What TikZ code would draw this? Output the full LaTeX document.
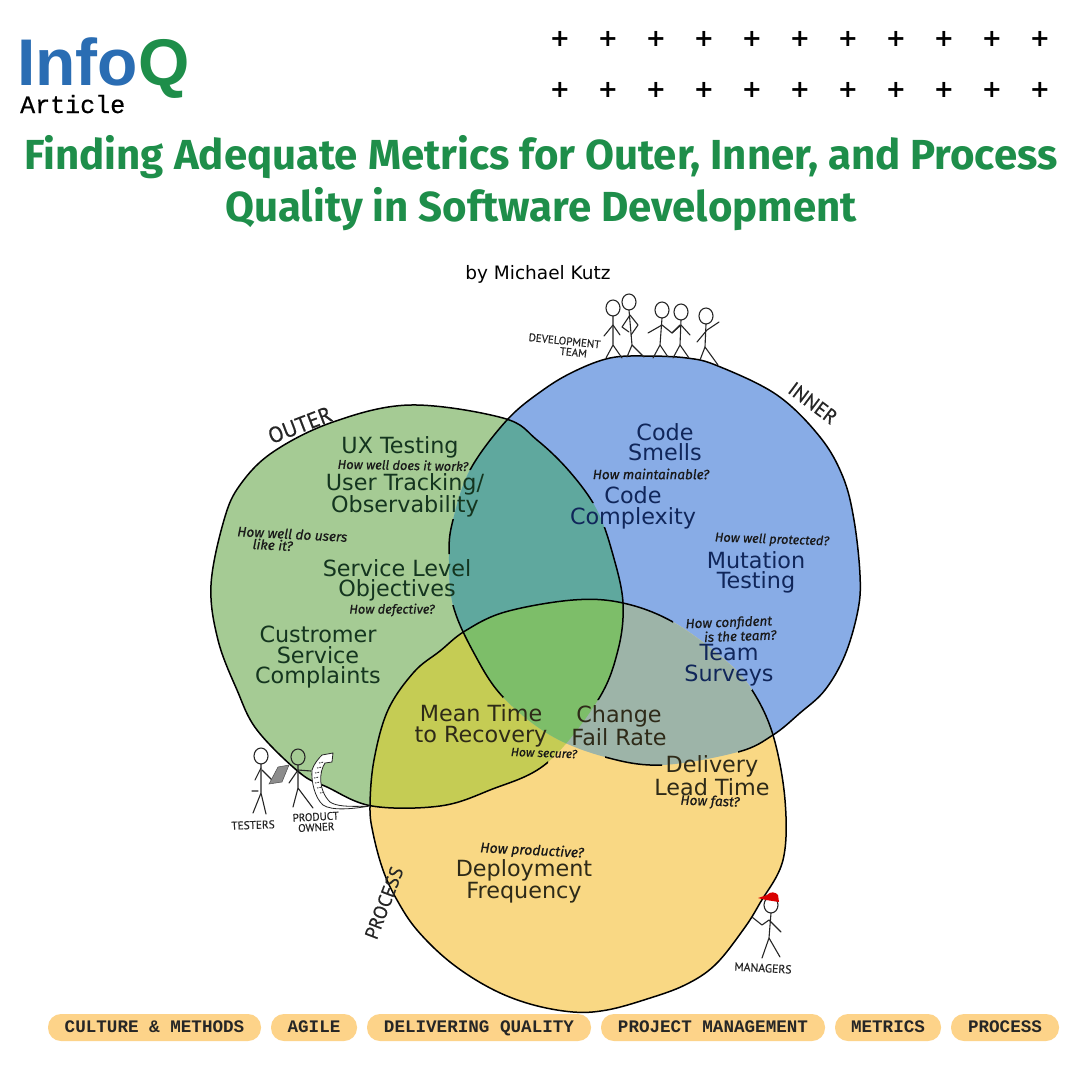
\documentclass[tikz,border=0pt]{standalone}
\usepackage{fontspec}
\setmainfont{DejaVu Sans}
\newfontfamily\titlefont{Fira Sans}
\newfontfamily\logofont{Liberation Sans}
\newfontfamily\monofont{Liberation Mono}
\newfontfamily\articlefont[FakeBold=0.5]{Liberation Mono}
\newfontfamily\byfont{DejaVu Sans}
\newfontfamily\handfont[FakeBold=0.6]{Fira Sans Italic}
\newfontfamily\capsfont[FakeBold=0.4]{PT Sans}
\definecolor{brandgreen}{HTML}{1E8E4A}
\definecolor{brandblue}{HTML}{2A6DB3}
\definecolor{chipfill}{HTML}{FDD389}
\definecolor{outeronly}{HTML}{A5CB94}
\definecolor{inneronly}{HTML}{88ACE6}
\definecolor{processonly}{HTML}{F9D884}
\definecolor{outerinner}{HTML}{5FA89E}
\definecolor{outerprocess}{HTML}{C5CC54}
\definecolor{innerprocess}{HTML}{9DB4A8}
\definecolor{allthree}{HTML}{7DBE69}
\definecolor{txtgreen}{HTML}{14351F}
\definecolor{txtblue}{HTML}{10265A}
\definecolor{txtyellow}{HTML}{2E2A18}
\tikzset{
  x=1pt,y=-1pt,
  venn/.style={draw=black,line width=1.5pt,line join=round},
  stick/.style={draw=black!85,line width=1.1pt,line cap=round,line join=round},
  metric/.style={font=\fontsize{22.3}{20.5}\selectfont,align=center,inner sep=0pt},
  hand/.style={font=\handfont\fontsize{#1}{12}\selectfont,inner sep=0pt,text=black!90,align=left},
  figlabel/.style={font=\capsfont\fontsize{#1}{10.5}\selectfont,align=center,inner sep=0pt,text=black!85},
  circlabel/.style={font=\capsfont\fontsize{#1}{20}\selectfont,inner sep=0pt,text=black!85},
  chip/.style={fill=chipfill,rounded corners=13pt,minimum height=27pt,inner sep=0pt,text=black!85,text height=12pt,text depth=3pt,font=\monofont\bfseries\fontsize{17.6}{18}\selectfont},
  plussign/.style={font=\bfseries\fontsize{24}{24}\selectfont,inner sep=0pt,text=black},
}
\def\outerpath{plot[smooth cycle,tension=0.6] coordinates {(211,585)(224,520)(240,485)(273,452)(333,422)(410,405)(503,418)(537,440)(570,472)(597,510)(613,555)(623,603)(618,650)(598,700)(547,763)(490,790)(440,806)(372,806)(327,787)(300,773)(257,730)(237,690)(218,640)}}
\def\innerpath{plot[smooth cycle,tension=0.6] coordinates {(645,356)(687,358)(718,366)(777,395)(820,437)(843,477)(854,520)(860,575)(858,610)(845,655)(825,690)(800,713)(773,735)(738,752)(662,765)(605,757)(550,735)(503,697)(475,655)(453,605)(449,553)(453,520)(470,470)(507,420)(543,390)(575,371)(610,358)}}
\def\processpath{plot[smooth cycle,tension=0.6] coordinates {(573,600)(623,603)(673,622)(725,660)(752,690)(773,735)(785,800)(783,860)(760,903)(743,930)(715,965)(685,985)(647,999)(607,1010)(573,1012)(530,1004)(490,988)(450,962)(417,930)(397,900)(383,870)(373,833)(370,806)(374,760)(388,710)(414,672)(440,651)(465,631)(505,612)}}
\newcommand{\stickfig}[7]{% head x,y ; hip x,y ; foot ; foot ; arms
  \draw[stick] (#1,#2) ellipse[x radius=7,y radius=8];
  \draw[stick] (#1,#2+8) -- (#3,#4) -- (#5) (#3,#4) -- (#6);
  \draw[stick] #7;
}
\begin{document}
\begin{tikzpicture}
\useasboundingbox (0,0) rectangle (1080,1080);
\fill[white] (0,0) rectangle (1080,1080);
% Header
\node[anchor=base west,inner sep=0pt,font=\logofont\bfseries\fontsize{66}{66}\selectfont] (logo) at (17,85) {\textcolor{brandblue}{Info}\textcolor{brandgreen}{Q}};
\node[anchor=base west,inner sep=0pt,font=\articlefont\fontsize{25}{25}\selectfont,text=black] (article) at (20,113) {Article};
\foreach \r/\yy in {1/39,2/90}{\foreach \c [evaluate=\c as \xx using 560+48*\c] in {0,...,10}{
  \node[plussign] (p\r-\c) at (\xx,\yy) {+};}}
\node[align=center,inner sep=0pt,font=\titlefont\bfseries\fontsize{42}{52}\selectfont,text=brandgreen] (title) at (541,183) {Finding Adequate Metrics for Outer, Inner, and Process\\Quality in Software Development};
\node[inner sep=0pt,font=\byfont\fontsize{18.5}{18.5}\selectfont,text=black] (by) at (538,274) {by Michael Kutz};
% Venn regions
\fill[outeronly] \outerpath;
\fill[inneronly] \innerpath;
\fill[processonly] \processpath;
\begin{scope}\clip \outerpath; \fill[outerinner] \innerpath; \fill[outerprocess] \processpath; \end{scope}
\begin{scope}\clip \innerpath; \fill[innerprocess] \processpath; \end{scope}
\begin{scope}\clip \outerpath; \clip \innerpath; \fill[allthree] \processpath; \end{scope}
% Outlines, with the gaps the lettering leaves
\begin{scope}[even odd rule]
\clip (0,0) rectangle (1080,1080) (585,503) rectangle (612,527) (548,700) rectangle (600,764);
\draw[venn] \outerpath;
\end{scope}
\begin{scope}[even odd rule]
\clip (0,0) rectangle (1080,1080) (440,470) rectangle (476,519) (440,554) rectangle (476,605) (503,697) rectangle (605,775) (662,745) rectangle (738,775);
\draw[venn] \innerpath;
\end{scope}
\begin{scope}[even odd rule]
\clip (0,0) rectangle (1080,1080) (673,610) rectangle (752,690);
\draw[venn] \processpath;
\end{scope}
% Metrics
\node[metric,text=txtgreen] (ux) at (400,447) {UX Testing};
\node[hand=12.8,rotate=-1] (q1) at (403,465) {How well does it work?};
\node[metric,text=txtgreen] (track) at (405,495.5) {User Tracking/\\Observability};
\node[hand=13.6,rotate=-3] (q2) at (292,540) {How well do users\\\hspace*{16pt}like it?};
\node[metric,text=txtgreen] (slo) at (397,580.5) {Service Level\\Objectives};
\node[hand=12.8] (q3) at (392,610) {How defective?};
\node[metric,text=txtgreen] (compl) at (318,657.5) {Custromer\\Service\\Complaints};
\node[metric,text=txtblue] (smells) at (665,442) {Code\\Smells};
\node[hand=13.5] (q4) at (651,474) {How maintainable?};
\node[metric,text=txtblue] (cx) at (633,508) {Code\\Complexity};
\node[hand=12.7,rotate=-2] (q5) at (772,540) {How well protected?};
\node[metric,text=txtblue] (mut) at (756,572.5) {Mutation\\Testing};
\node[hand=13.4,rotate=2] (q6) at (731,629) {How confident\\\hspace*{18pt}is the team?};
\node[metric,text=txtblue] (team) at (729,665) {Team\\Surveys};
\node[metric,text=txtyellow] (mttr) at (481,726) {Mean Time\\to Recovery};
\node[metric,text=txtyellow] (cfr) at (619,725.5) {Change\\Fail Rate};
\node[hand=12,rotate=-2] (q7) at (544,753) {How secure?};
\node[metric,text=txtyellow] (lead) at (712,775.5) {Delivery\\Lead Time};
\node[hand=13.6,rotate=-2] (q8) at (710,802) {How fast?};
\node[hand=14,rotate=-3] (q9) at (532,851) {How productive?};
\node[metric,text=txtyellow] (dep) at (524,881.5) {Deployment\\Frequency};
% Circle labels
\node[circlabel=22,rotate=21] (outerl) at (300,425) {OUTER};
\node[circlabel=20,rotate=-37] (innerl) at (813,403) {INNER};
\node[circlabel=19,rotate=69] (procl) at (384,903) {PROCESS};
% Development team
\stickfig{613}{308}{613}{345}{606,358}{622,358}{(613,325) -- (604,336) (613,325) -- (620,335)}
\stickfig{629}{302}{632}{345}{627,357}{644,357}{(630,315) -- (622,327) -- (629,332) (630,315) -- (638,325) -- (631,335)}
\stickfig{662}{310}{660}{345}{653,358}{668,357}{(662,325) -- (648,333) (662,325) -- (672,333) -- (680,325)}
\stickfig{681}{312}{680}{345}{673,358}{689,358}{(681,325) -- (672,333) (681,325) -- (690,335)}
\stickfig{706}{316}{705}{347}{700,360}{718,365}{(707,330) -- (697,342) (707,330) -- (719,322)}
\node[figlabel=11,rotate=-6] (devl) at (564,346) {DEVELOPMENT\\\hspace*{20pt}TEAM};
% Tester and product owner
\stickfig{261}{756}{261}{793}{253,813}{266,814}{(261,768) -- (255,780) (262,770) -- (272,780) (252,791) -- (258,791)}
\fill[black!45,draw=black!70,line width=0.5pt] (278,767) -- (289,765) -- (282,782) -- (269,784) -- cycle;
\node[figlabel=11.3,rotate=2] (testl) at (253,825) {TESTERS};
\stickfig{298}{757}{298}{788}{293,807}{313,808}{(298,770) -- (289,783) (298,770) -- (311,771)}
\filldraw[white,draw=black!85,line width=0.8pt] (322,755) -- (333,753) -- (332,762) -- (325,763) .. controls (319,772) and (318,790) .. (330,802) .. controls (336,806) and (346,807) .. (370,806) .. controls (352,809) and (332,811) .. (323,805) .. controls (315,798) and (311,782) .. (312,770) .. controls (314,764) and (318,759) .. (322,755) -- cycle;
\foreach \a/\b in {319/763,317/768,315/773,314/778,315/783,317/788,320/793}{\draw[black!80,line width=0.9pt,dash pattern=on 1.5pt off 1pt] (\a,\b) -- (\a+5,\b-1);}
\node[figlabel=11,rotate=3] (pol) at (316,822) {PRODUCT\\OWNER};
% Manager
\stickfig{771}{905}{769}{938}{762,958}{780,957}{(769,920) -- (781,932) (769,920) -- (762,925) -- (752,917)}
\fill[red!85!black] (758,898) -- (767,895) .. controls (770,891) and (776,892) .. (778,895) -- (779,902) -- (766,900) -- cycle;
\node[figlabel=11.7,rotate=-3] (manl) at (763,968) {MANAGERS};
% Chips
\node[chip,minimum width=213pt] (c1) at (154.5,1027.5) {CULTURE \& METHODS};
\node[chip,minimum width=86pt] (c2) at (314,1027.5) {AGILE};
\node[chip,minimum width=224pt] (c3) at (479,1027.5) {DELIVERING QUALITY};
\node[chip,minimum width=224pt] (c4) at (713,1027.5) {PROJECT MANAGEMENT};
\node[chip,minimum width=106pt] (c5) at (888,1027.5) {METRICS};
\node[chip,minimum width=108pt] (c6) at (1005,1027.5) {PROCESS};
\end{tikzpicture}
\end{document}
